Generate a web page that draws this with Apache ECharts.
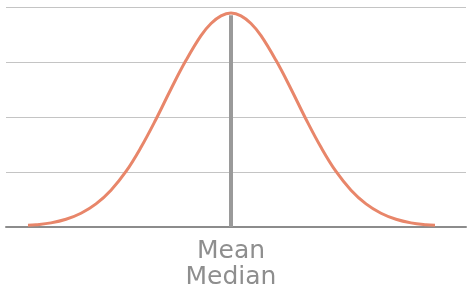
<!DOCTYPE html>
<html><head><meta charset="utf-8">
<script src="https://cdn.jsdelivr.net/npm/echarts@6/dist/echarts.min.js"></script>
<style>html,body{margin:0;padding:0;background:#fff}#c{width:474px;height:295px}</style>
</head><body><div id="c"></div>
<script>
// distance from the mean (in plot units) and curve height
const xs = [-203,-195,-180,-165,-150,-135,-120,-105,-90,-75,-60,-45,-30,-20,-10,0,10,20,30,45,60,75,90,105,120,135,150,165,180,195,204];
const ys = [0.03,0.04,0.075,0.14,0.25,0.42,0.67,1.01,1.45,1.96,2.51,3.03,3.48,3.70,3.84,3.89,3.84,3.70,3.48,3.03,2.51,1.96,1.45,1.01,0.67,0.42,0.25,0.14,0.075,0.04,0.03];
const meanX = 0;
const meanLineTop = 3.85;
const tickLabels = ['Mean', 'Median'];

const chart = echarts.init(document.getElementById('c'));
chart.setOption({
  animation: false,
  grid: {left: 6, right: 8, top: 7, bottom: 68},
  xAxis: {
    type: 'value', min: -225, max: 235,
    axisLine: {show: true, onZero: false, lineStyle: {color: '#8c8c8c', width: 2}},
    axisTick: {show: false},
    splitLine: {show: false},
    axisLabel: {
      customValues: [meanX],
      formatter: () => tickLabels.join('\n'),
      color: '#8e8e8e', fontSize: 25, lineHeight: 26,
      fontFamily: 'DejaVu Sans', margin: 11
    }
  },
  yAxis: {
    type: 'value', min: 0, max: 4, interval: 1,
    axisLine: {show: false}, axisTick: {show: false}, axisLabel: {show: false},
    splitLine: {lineStyle: {color: '#c4c4c4', width: 1}}
  },
  series: [
    {
      type: 'line', data: [[meanX, 0], [meanX, meanLineTop]],
      showSymbol: false, lineStyle: {color: '#9a9a9a', width: 4}, z: 1
    },
    {
      type: 'line', data: xs.map((x, i) => [x, ys[i]]), smooth: 0.4,
      showSymbol: false, lineStyle: {color: '#e8866a', width: 3}, z: 2
    }
  ]
});
</script></body></html>
